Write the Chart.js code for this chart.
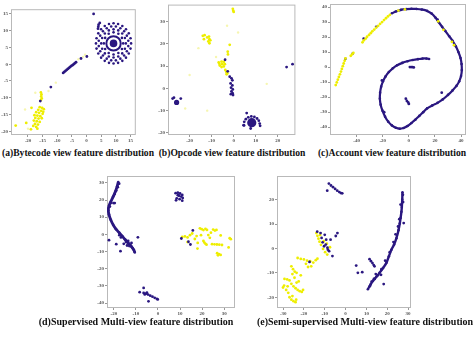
<!DOCTYPE html>
<html>
<head>
<meta charset="utf-8">
<script src="https://cdn.jsdelivr.net/npm/chart.js@4.4.1/dist/chart.umd.min.js"></script>
<style>
  html, body { margin: 0; padding: 0; background: #fff; }
  body { width: 474px; height: 337px; position: relative; overflow: hidden; }
  canvas { position: absolute; }
  .caption { position: absolute; font: bold 10px "Liberation Serif", "Times New Roman", serif; color: #111; white-space: nowrap; text-align: center; line-height: 12px; }
  .caption.top { font-size: 9.6px; }
</style>
</head>
<body>
<canvas id="chartA"></canvas>
<canvas id="chartB"></canvas>
<canvas id="chartC"></canvas>
<canvas id="chartD"></canvas>
<canvas id="chartE"></canvas>
<div class="caption top" style="left:-22px; width:200px; top:147px;">(a)Bytecode view feature distribution</div>
<div class="caption top" style="left:132px; width:200px; top:147px;">(b)Opcode view feature distribution</div>
<div class="caption top" style="left:292px; width:200px; top:147px;">(c)Account view feature distribution</div>
<div class="caption" style="left:26px; width:220px; top:316px;">(d)Supervised Multi-view feature distribution</div>
<div class="caption" style="left:245px; width:240px; top:316px;">(e)Semi-supervised Multi-view feature distribution</div>
<script>
// ---- tick labels ----
const bytecodeXTicks = [-20, -15, -10, -5, 0, 5, 10, 15];
const bytecodeYTicks = [15, 10, 5, 0, -5, -10, -15, -20];
const opcodeXTicks = [-20, -10, 0, 10, 20];
const opcodeYTicks = [30, 20, 10, 0, -10, -20];
const accountXTicks = [-40, -20, 0, 20, 40];
const accountYTicks = [40, 30, 20, 10, 0, -10, -20, -30, -40];
const supervisedXTicks = [-20, -10, 0, 10, 20, 30];
const supervisedYTicks = [30, 20, 10, 0, -10, -20, -30, -40];
const semiXTicks = [-30, -20, -10, 0, 10, 20, 30];
const semiYTicks = [20, 10, 0, -10, -20];

// ---- (a) bytecode view ----
const bytecodeYellow = [[-15.6,-8.4],[-15.4,-9.0],[-15.5,-9.6],[-15.3,-10.2],[-15.6,-10.7],
  [-16.0,-12.8],[-15.2,-13.0],[-14.6,-13.4],[-16.5,-13.6],[-15.5,-13.9],[-14.8,-14.2],[-17.2,-14.3],
  [-16.2,-14.5],[-15.0,-14.8],[-17.8,-15.2],[-16.8,-15.3],[-15.8,-15.5],[-17.5,-16.0],[-16.4,-16.2],
  [-15.3,-16.1],[-18.0,-16.8],[-17.0,-17.0],[-16.0,-17.2],[-17.6,-17.8],[-16.6,-18.0],[-17.2,-18.7],
  [-18.2,-18.4],[-16.8,-19.2],[-19.0,-19.4],[-24.2,-18.3],[-20.6,-17.5],[-18.8,-13.0]];
const bytecodePale = [[-2.8,1.5],[-0.5,2.8],[-10.5,-5.5],[-13,-8],[-17.5,-8.5],[-21,-13.5],[-20,-19.2],[-1.2,2.2]];
const bytecodePurple = [[-8.0,-2.6],[-7.6,-2.3],[-7.2,-2.0],[-6.8,-1.7],[-6.4,-1.4],[-6.0,-1.1],
  [-5.6,-0.8],[-5.2,-0.5],[-4.8,-0.3],[-4.4,0.0],[-4.0,0.3],[-3.6,0.6],[-1.9,1.7],[0.1,2.3],
  [2.4,15.0],[-12.2,-6.8],[-15.8,-11.0],[3.9,10.6],[4.0,11.2],[4.1,11.8],[4.5,12.3]];
const bytecodeRings = [
  [12.5,6.2],[12.06,7.85],[10.85,9.06],[9.2,9.5],[7.55,9.06],[6.34,7.85],[5.9,6.2],[6.34,4.55],
  [7.55,3.34],[9.2,2.9],[10.85,3.34],[12.06,4.55],
  [13.4,6.2],[13.08,7.81],[12.17,9.17],[10.81,10.08],[9.2,10.4],[7.59,10.08],[6.23,9.17],[5.32,7.81],
  [5.0,6.2],[5.32,4.59],[6.23,3.23],[7.59,2.32],[9.2,2.0],[10.81,2.32],[12.17,3.23],[13.08,4.59],
  [14.24,7.0],[13.74,8.52],[12.81,9.81],[11.52,10.74],[10.0,11.24],[8.4,11.24],[6.88,10.74],[5.59,9.81],
  [4.66,8.52],[4.16,7.0],[4.16,5.4],[4.66,3.88],[5.59,2.59],[6.88,1.66],[8.4,1.16],[10.0,1.16],
  [11.52,1.66],[12.81,2.59],[13.74,3.88],[14.24,5.4],
  [15.2,6.2],[15.0,7.75],[14.4,9.2],[13.44,10.44],[12.2,11.4],[10.75,12.0],[9.2,12.2],[7.65,12.0],
  [6.2,11.4],[4.96,10.44],[4.0,9.2],[3.4,7.75],[3.2,6.2],[3.4,4.65],[4.0,3.2],[4.96,1.96],
  [6.2,1.0],[7.65,0.4],[9.2,0.2],[10.75,0.4],[12.2,1.0],[13.44,1.96],[14.4,3.2],[15.0,4.65]];
const bytecodeCore = [[9.2, 6.2]];

// ---- (b) opcode view ----
const opcodeYellow = [[-0.4,35.6],[-0.2,34.8],[0.0,34.2],[-14,23.5],[-13.2,23.8],[-12.0,22.8],
  [-11.2,23.2],[-11.0,22.0],[-11.5,21.0],[-11.0,20.2],[-10.6,21.5],[-13.5,22.0],[-1.8,19.5],
  [-2.7,16.4],[-2.6,15.2],[-6.5,11.0],[-5.5,12.0],[-4.5,11.8],[-4.0,10.8],[-4.5,9.8],[-5.5,9.5],
  [-6.3,10.2],[-5.2,10.8],[-6.8,11.6],[-3.4,7.4],[-2.9,6.8],[-3.2,6.3],[-3.8,8.2]];
const opcodePale = [[-16,18],[-8,14],[-20,6],[-3,28],[2,25],[-12,-10],[15,2],[-22,-9]];
const opcodePurple = [[-3.9,12.8],[-2.7,7.6],[-1.8,5.2],[-1.0,4.5],[-0.6,3.6],[-1.4,2.2],[-0.6,1.3],
  [-1.2,0.3],[-0.4,-0.5],[-1.0,-1.4],[-0.5,-2.2],[-1.3,-2.6],[-0.3,-3.0],[-27.1,-4.2],[-27.7,-4.6],
  [-24.0,-4.6],[24.0,9.5],[26.7,10.8],[5.9,-11.1],[4.5,-16.5],[4.8,-15.0],[5.5,-13.8],[6.6,-13.0],
  [8.0,-12.6],[9.4,-12.8],[10.6,-13.5],[11.4,-14.5],[11.8,-15.8],[12.0,-16.8],[7.7,-18.0],[4.7,-16.6]];
const opcodeBlobs = [[-25.9,-6.3],[8.2,-15.4]];

// ---- (c) account view ----
const accountYellow = [[-56,-12],[-55.2,-10.2],[-54.4,-8.4],[-53.6,-6.6],[-52.8,-4.8],[-52,-3],
  [-51.3,-1.2],[-50.6,0.6],[-49.9,2.4],[-49.2,4.2],[-48.5,5.8],[-44.5,7.5],[-43.5,8.5],[-42.5,9.5],
  [-35.5,16.5],[-34.5,17.8],[-33,19],[-32,20.2],[-30.5,21.4],[-29.2,22.6],[-28,23.8],[-26.5,25],
  [-25,26.3],[-23.5,27.5],[-22,28.8],[-20.5,30],[-19,31.3],[-17.5,32.5],[-16,33.7],[-14.5,34.8],
  [22.5,30.5],[26.5,24.8],[33,16.8],[34.6,14.6],[-3,38.4],[-8,37.6]];
const accountArc = [[-13,35.8],[-10,37],[-6,38.1],[-2,38.6],[2,38.8],[6,38.7],[10,38.3],[14,37.4],
  [17.5,35.6],[20.5,32.8],[23,29.8],[25.5,26.8],[28,24],[31,20.5],[33.5,17.5],[36,13.8],[38,10],
  [39.6,6],[40.4,2],[40.6,-2],[40,-6],[38.6,-9.5],[36.5,-12.5],[33.5,-15.5],[30,-18.5],[26,-21.5],
  [22,-23.8],[18,-25.5],[14,-27.5],[11,-30],[8,-32.5],[5,-35],[2,-37.2],[-1,-39.2],[-4,-40.5],
  [-7,-41],[-10,-40.4],[-13,-38.8],[-15.8,-36.3],[-18.2,-33],[-20.2,-29],[-21.6,-25],[-22.2,-21],
  [-22,-17],[-21.2,-13],[-19.8,-9.5],[-17.8,-6.2],[-15.3,-3.3],[-12.3,-0.8],[-9,1.2],[-5,2.8],
  [-1,3.9],[3,4.7],[7,5.3],[10.5,5.7],[13.5,5.7],[15.5,5.4]];
const accountPurple = [[-34.6,18.9],[-43,9],[-48.6,5.5],[-2.3,-21],[-1.5,-22.5],[-0.5,-23.5],
  [0,-24.5],[0.8,0],[1.8,0],[2.8,0],[3.8,-0.2],[25.2,-17],[-20.6,-8.9],[-18.9,-30],[22,31.5],[-25,26.8]];

// ---- (d) supervised multi-view ----
const supervisedYellow = [[19,3.5],[19.8,3],[20.6,2.5],[21.5,3.2],[22.2,2.6],[25,2.8],[25.8,2.2],
  [26.5,2.6],[28.4,-0.6],[32.5,-2.2],[33,-2.8],[11,-1.5],[12.2,-1.2],[13.4,-1.8],[16.7,-2.7],
  [20.6,-3.8],[21,-4.8],[21.5,-5.5],[22,-6],[22.8,-0.4],[24.5,-5.7],[25.6,-5.8],[26.7,-5.9],
  [27.8,-6],[29,-6.2],[26.8,-11],[27.6,-11.5],[28.4,-12],[27.2,-12.2],[32,-7.6],[13.4,-4.5],
  [17.9,-8.3],[15.5,0.5],[17.5,-1],[18,-5],[23.5,-2],[24,1],[19.5,-0.5],[14.5,-0.5]];
const supervisedArc = [[-18,30.5],[-18.5,28],[-19.3,25],[-20.3,22],[-21.4,19],[-22.2,16.5],
  [-22.5,14],[-22.2,11.5],[-21.4,8.5],[-20.3,5.5],[-19,3],[-17.6,1],[-16.2,-1],[-14.9,-3],
  [-13.5,-5],[-12.1,-7],[-11,-9],[-10.5,-10.5]];
const supervisedPurple = [[-23.3,15.1],[-21.4,18.2],[-20.2,18.2],[-19.6,18.2],[-22.2,-3.4],
  [-18.9,-5.7],[-17,-9.8],[-9.1,-1.7],[-12.5,-6.3],[-14.5,-4.5],[-13.5,-3.8],[-15.5,-5.5],[-13,-6.8],
  [-12,-5],[-11.5,-8],[-14,-6.5],[-17.5,-0.5],[-16.8,-1.8],[-22.8,14.5],[-21.8,16.2],
  [-17.6,29.5],[-18.2,27.5],[-18.9,25.5],[-19.6,23.5],
  [8,24],[9,24.3],[10,23.8],[11,23],[9.5,22.5],[10.5,22],[11.2,21.2],[8.5,21],[9.8,20.5],
  [8.2,19.8],[11,19.6],[9,22.8],
  [-6.5,-31.2],[-8.3,-33.7],[-6.5,-34.1],[-5.5,-34.6],[-4.5,-35.1],[-3.5,-35.7],[-2.5,-36.3],
  [-1.5,-37],[-0.5,-37.6],[-0.1,-37.9],[-4.3,-39],[-6,-35],[-5,-34],
  [10.6,-2.4],[13.8,-4.3],[14.7,-5.9],[15.8,2.3]];

// ---- (e) semi-supervised multi-view ----
const semiYellow = [[-14,6.3],[-13.5,5.2],[-13,4],[-12.5,2.8],[-11.8,1.5],[-10.8,-0.2],[-9.8,-1.5],
  [-8.8,-2.5],[-12.2,5.5],[-10.5,3],[-9,2],[-7.5,0.5],
  [-23,-3.9],[-21.5,-4.3],[-20,-4.5],[-18.5,-5],[-17,-5.2],[-15.5,-5.8],[-14.3,-4.8],[-13.5,-4.2],
  [-19,-6.3],[-16.5,-7.3],[-18,-7.6],[-26,-7.3],[-25.2,-8.5],[-24.4,-9.5],[-23.5,-10],[-25.5,-10.5],
  [-29.3,-12.5],[-28,-12.7],[-26.9,-13.1],[-26,-14.5],[-25,-15.5],[-24,-16.3],[-23,-17],[-22,-17.5],
  [-21,-17.8],[-20.4,-17],[-23.5,-14],[-22.5,-13.5],[-30,-16],[-29.5,-15.2],[-28.5,-17],[-27.5,-18.2],
  [-26.9,-20],[-26,-21],[-25,-21.6],[-24,-22],[-23.7,-21],[-25.5,-19.5],[-27.8,-15.5],[-24.5,-12],[-21.5,-11]];
const semiCurve = [[27.3,23],[27.2,20],[27,17],[26.8,15],[26.4,12.5],[26,10.2],[25.4,7.5],[24.4,4.2],
  [23.3,1.6],[22,-0.5],[20.8,-3.2],[19.6,-5.9],[18,-8],[16.3,-10],[14.7,-11.7],[13.1,-13.3],
  [12,-14.8],[10.7,-16.7]];
const semiPurple = [[-8,26.6],[-7,25.8],[-6,25.1],[-5,24.4],[-4,23.7],[-3,23.1],[-2.2,22.7],[-1.6,22.6],
  [-8.8,23.7],[27.9,10.4],[27.5,22],[26.4,18],[27.6,19],[25.8,12],[25.2,9],[24,5.8],[23,2.6],
  [21.2,-1.5],[19,-5],[17.2,-8.5],[15.5,-11],[14.5,-10.5],[13.6,-12.5],[12.5,-13.6],[11.6,-15.5],
  [14,-12.5],[18.3,-14.6],[17,-10.8],[11.5,-4.4],[12.2,-5.2],[12.9,-6],[13.5,-6.8],[13.9,-7.3],
  [5.1,-7],[5.9,-10],[8,-9.7],
  [-13.6,6.9],[-12,6.3],[-10,5.6],[-11.5,4.3],[-9.3,3.6],[-10.3,0.9],[-8.7,0.3],[-7.9,-1.1],
  [-6.3,-3.1],[-4.7,5.1],[-3.9,6.3],[-7.2,3.6],[-9.5,1.6],[-17.3,-5.5],[-11,2.5],[-8.5,-0.5]];

// ---- styling ----
const PURPLE = '#2a1780';
const YELLOW = '#eeee00';
const PALE = '#f6f6b0';
const TICK_FONT = { size: 5, family: '"Liberation Serif", serif', weight: 'bold' };
const AXIS_W = 14;   // room for y tick labels
const AXIS_H = 11;   // room for x tick labels
const PAD = 2;

// draws the grey box round each plot area
const framePlugin = {
    id: 'frameBox',
    beforeDatasetsDraw(chart) {
        const { ctx, chartArea: a } = chart;
        ctx.save();
        ctx.strokeStyle = '#b9b9b9';
        ctx.lineWidth = 1;
        ctx.strokeRect(a.left + 0.5, a.top + 0.5, a.right - a.left - 1, a.bottom - a.top - 1);
        ctx.restore();
    }
};

function dots(data, color, r) {
    return { data: data, showLine: false, pointRadius: r, pointBackgroundColor: color,
             pointBorderWidth: 0, pointHoverRadius: r };
}
function curve(data, color, w) {
    return { data: data, showLine: true, borderColor: color, borderWidth: w, tension: 0.4,
             pointRadius: 1.3, pointBackgroundColor: color, pointBorderWidth: 0 };
}

function axis(min, max, ticks, isX) {
    return {
        type: 'linear', min: min, max: max,
        afterBuildTicks: s => { s.ticks = ticks.map(v => ({ value: v })); },
        // fixed axis size, and no extra label padding, so the plot box lands where we want it
        afterFit: s => {
            if (isX) { s.height = AXIS_H; s.paddingLeft = 0; s.paddingRight = 0; }
            else { s.width = AXIS_W; s.paddingTop = 0; s.paddingBottom = 0; }
        },
        grid: { drawOnChartArea: false, tickLength: 2, tickColor: '#999' },
        border: { display: false },
        ticks: { font: TICK_FONT, color: '#555', padding: 1, maxRotation: 0, autoSkip: false }
    };
}

// box = plot area in page pixels
function makePanel(id, box, xr, yr, xTicks, yTicks, datasets) {
    const canvas = document.getElementById(id);
    const w = box.right - box.left + AXIS_W + PAD;
    const h = box.bottom - box.top + AXIS_H + PAD;
    canvas.width = w;
    canvas.height = h;
    canvas.style.left = (box.left - AXIS_W) + 'px';
    canvas.style.top = (box.top - PAD) + 'px';
    canvas.style.width = w + 'px';
    canvas.style.height = h + 'px';
    return new Chart(canvas.getContext('2d'), {
        type: 'scatter',
        data: { datasets: datasets },
        options: {
            responsive: false,
            animation: false,
            devicePixelRatio: 1,
            layout: { padding: { top: PAD, right: PAD, left: 0, bottom: 0 } },
            plugins: { legend: { display: false }, tooltip: { enabled: false } },
            scales: { x: axis(xr[0], xr[1], xTicks, true), y: axis(yr[0], yr[1], yTicks, false) }
        },
        plugins: [framePlugin]
    });
}

makePanel('chartA', { left: 11, top: 2, right: 143, bottom: 135 }, [-25.8, 16.8], [-21.1, 16.4],
    bytecodeXTicks, bytecodeYTicks, [
        dots(bytecodePurple, PURPLE, 1.4),
        { data: bytecodeCore, pointRadius: 3.8, pointBackgroundColor: PURPLE, pointBorderWidth: 0 },
        { data: bytecodeCore, pointRadius: 7.2, pointBackgroundColor: 'rgba(0,0,0,0)',
          pointBorderColor: PURPLE, pointBorderWidth: 2 },
        dots(bytecodeRings, PURPLE, 1.3),
        dots(bytecodeYellow, YELLOW, 1.4),
        dots(bytecodePale, PALE, 1.2)
    ]);

makePanel('chartB', { left: 168, top: 2, right: 298, bottom: 135 }, [-29.8, 28], [-20.9, 37.5],
    opcodeXTicks, opcodeYTicks, [
        dots(opcodePurple, PURPLE, 1.4),
        { data: opcodeBlobs, pointRadius: [2.6, 4.6], pointBackgroundColor: PURPLE, pointBorderWidth: 0 },
        dots(opcodeYellow, YELLOW, 1.4),
        dots(opcodePale, PALE, 1.2)
    ]);

makePanel('chartC', { left: 330, top: 2, right: 468, bottom: 135 }, [-60.4, 43.8], [-45.2, 42],
    accountXTicks, accountYTicks, [
        dots(accountYellow, YELLOW, 1.4),
        dots(accountPurple, PURPLE, 1.4),
        curve(accountArc, PURPLE, 2.2)
    ]);

makePanel('chartD', { left: 107, top: 174, right: 237, bottom: 308 }, [-23.1, 34.9], [-42.9, 34],
    supervisedXTicks, supervisedYTicks, [
        dots(supervisedPurple, PURPLE, 1.4),
        curve(supervisedArc, PURPLE, 2.8),
        dots(supervisedYellow, YELLOW, 1.4)
    ]);

makePanel('chartE', { left: 277, top: 174, right: 413, bottom: 308 }, [-32.9, 31.4], [-24.4, 29.7],
    semiXTicks, semiYTicks, [
        dots(semiPurple, PURPLE, 1.4),
        curve(semiCurve, PURPLE, 2.4),
        dots(semiYellow, YELLOW, 1.4)
    ]);
</script>
</body>
</html>
